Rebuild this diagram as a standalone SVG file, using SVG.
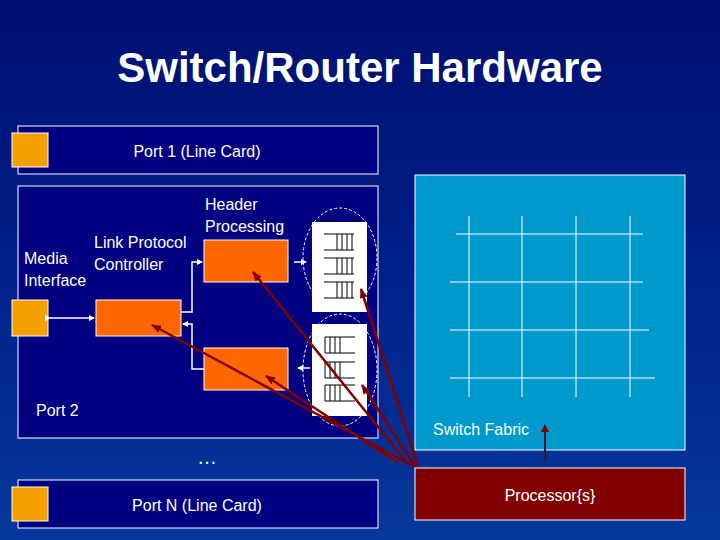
<svg xmlns="http://www.w3.org/2000/svg" width="720" height="540" viewBox="0 0 720 540">
<defs>
<linearGradient id="bg" x1="0" y1="0" x2="0" y2="1"><stop offset="0" stop-color="#000f70"/><stop offset="0.5" stop-color="#00208a"/><stop offset="1" stop-color="#06389c"/></linearGradient>
<marker id="wa" markerWidth="6" markerHeight="6" refX="5" refY="3" orient="auto" markerUnits="userSpaceOnUse"><path d="M0,0L6,3L0,6z" fill="#fff"/></marker>
<marker id="ra" markerWidth="10" markerHeight="8" refX="9" refY="4" orient="auto" markerUnits="userSpaceOnUse"><path d="M0,0L10,4L0,8z" fill="#800000"/></marker>
<marker id="ra2" markerWidth="8" markerHeight="8" refX="7" refY="4" orient="auto" markerUnits="userSpaceOnUse"><path d="M0,0L8,4L0,8z" fill="#800000"/></marker>
</defs>
<style>
.t{font-family:"Liberation Sans",Arial,sans-serif;fill:#fff;font-size:16px}
.card{fill:#000080;stroke:#fff;stroke-width:1}
.or{fill:#ff6600;stroke:#fff;stroke-width:1}
.sq{fill:#f5a000;stroke:#fff;stroke-width:1}
.wl{stroke:#fff;stroke-width:1.5;fill:none}
.q{stroke:#000;stroke-width:1;fill:none}
.g{stroke:#fff;stroke-width:1}
.rl{stroke:#800000;stroke-width:2.5;fill:none;marker-end:url(#ra)}
</style>
<rect width="720" height="540" fill="url(#bg)"/>
<text x="360" y="82" text-anchor="middle" style="font-family:'Liberation Sans',Arial,sans-serif;font-weight:bold;font-size:42px;fill:#fff">Switch/Router Hardware</text>
<g id="port1"><rect class="card" x="18" y="126" width="360" height="48"/><rect class="sq" x="12" y="133" width="36" height="34"/><text class="t" x="197" y="157" text-anchor="middle">Port 1 (Line Card)</text></g>
<g id="port2"><rect class="card" x="18" y="186" width="360" height="252"/><text class="t" x="36" y="416">Port 2</text></g>
<g id="media"><rect class="sq" x="12" y="300" width="36" height="36"/><text class="t" x="24" y="264">Media</text><text class="t" x="24" y="286">Interface</text></g>
<g id="lpc"><rect class="or" x="96" y="300" width="85" height="36"/><text class="t" x="94" y="248">Link Protocol</text><text class="t" x="94" y="270">Controller</text></g>
<g id="hp"><rect class="or" x="204" y="240" width="84" height="42"/><text class="t" x="205" y="210">Header</text><text class="t" x="205" y="232">Processing</text></g>
<g id="outproc"><rect class="or" x="204" y="348" width="84" height="42"/></g>
<g id="queues">
<ellipse cx="340" cy="258" rx="37" ry="50" fill="none" stroke="#fff" stroke-dasharray="3,2"/>
<ellipse cx="340" cy="370" rx="37" ry="56" fill="none" stroke="#fff" stroke-dasharray="3,2"/>
<rect x="312" y="222" width="55" height="90" fill="#fff"/>
<rect x="312" y="324" width="55" height="92" fill="#fff"/>
<g class="q">
<path d="M324,234H354M324,250H354M337,234V250M342,234V250M347,234V250M352,234V250"/>
<path d="M324,258H354M324,274H354M337,258V274M342,258V274M347,258V274M352,258V274"/>
<path d="M324,282H354M324,298H354M337,282V298M342,282V298M347,282V298M352,282V298"/>
<path d="M325,337H355M325,353H355M325,337V353M330,337V353M335,337V353M340,337V353"/>
<path d="M325,362H355M325,378H355M325,362V378M330,362V378M335,362V378M340,362V378"/>
<path d="M325,385H355M325,401H355M325,385V401M330,385V401M335,385V401M340,385V401"/>
</g></g>
<g id="portN"><rect class="card" x="18" y="480" width="360" height="48"/><rect class="sq" x="12" y="487" width="36" height="34"/><text class="t" x="197" y="511" text-anchor="middle">Port N (Line Card)</text><text class="t" x="207" y="464" text-anchor="middle" style="font-size:20px">…</text></g>
<g id="fabric"><rect x="415" y="175" width="270" height="275" fill="#0099cc" stroke="#fff"/>
<g class="g"><path d="M469,216V397M522,216V397M576,216V397M630,216V397M456,234H643M450,282H643M450,330H649M450,378H655"/></g>
<text class="t" x="433" y="435">Switch Fabric</text></g>
<g id="processor"><rect x="415" y="468" width="270" height="52" fill="#800000" stroke="#fff"/><text class="t" x="550" y="501" text-anchor="middle">Processor{s}</text></g>
<g id="connectors">
<path class="wl" d="M50,318H94" marker-start="url(#wa)" marker-end="url(#wa)"/>
<path class="wl" d="M181,312H192V262H202" marker-end="url(#wa)"/>
<path class="wl" d="M204,369H192V324H183" marker-end="url(#wa)"/>
<path class="wl" d="M294,262H306" marker-end="url(#wa)"/>
<path class="wl" d="M310,368H298" marker-end="url(#wa)"/>
<path class="rl" d="M413,466L152,325"/>
<path class="rl" d="M408,464L253,272"/>
<path class="rl" d="M398,463L266,376"/>
<path class="rl" d="M418,466L361,289"/>
<path class="rl" d="M415,466L362,385"/>
<path d="M545,462V425" stroke="#3a1a30" stroke-width="2" marker-end="url(#ra2)"/>
</g>
</svg>
